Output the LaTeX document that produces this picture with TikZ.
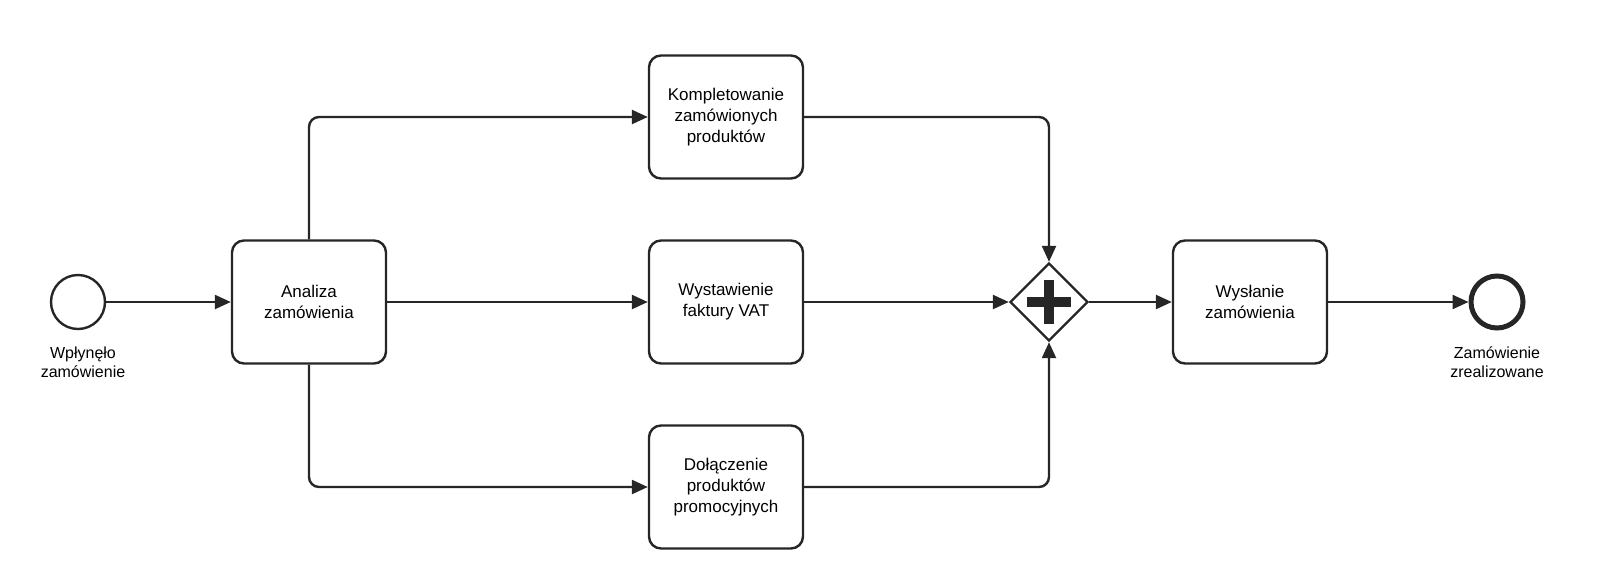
\documentclass[tikz,border=0pt]{standalone}
\usepackage{fontspec}
\setmainfont{Liberation Sans}
\usetikzlibrary{shapes.geometric,arrows.meta}
\begin{document}
\begin{tikzpicture}[x=0.5pt,y=-0.5pt,
  task/.style={draw=black!85,line width=1.2pt,rounded corners=6pt,minimum width=77pt,minimum height=61.5pt,align=center,font=\fontsize{8.5}{10.5}\selectfont,fill=white},
  lbl/.style={align=center,font=\fontsize{8}{9.5}\selectfont},
  flow/.style={draw=black!85,line width=1.2pt,rounded corners=5pt,-{Triangle[length=8pt,width=7pt]}}]
\useasboundingbox (0,0) rectangle (1600,584);
\node[circle,draw=black!85,line width=1.2pt,minimum size=27pt,inner sep=0] (s) at (78,302) {};
\node[lbl] (sl) at (83,362) {Wpłynęło\\zamówienie};
\node[task] (a) at (309,302) {Analiza\\zamówienia};
\node[task] (k) at (726,117) {Kompletowanie\\zamówionych\\produktów};
\node[task] (w) at (726,302) {Wystawienie\\faktury VAT};
\node[task] (d) at (726,487) {Dołączenie\\produktów\\promocyjnych};
\node[diamond,draw=black!85,line width=1.2pt,minimum size=39pt,inner sep=0] (g) at (1049,302) {};
\fill[black!85] (1044,280) rectangle (1054,324);
\fill[black!85] (1027,297) rectangle (1071,307);
\node[task] (z) at (1250,302) {Wysłanie\\zamówienia};
\node[circle,draw=black!85,line width=2.5pt,minimum size=26pt,inner sep=0] (e) at (1497,302) {};
\node[lbl] (el) at (1497,362) {Zamówienie\\zrealizowane};
\draw[flow] (s) -- (a);
\draw[flow] (a.north) |- (k.west);
\draw[flow] (a) -- (w);
\draw[flow] (a.south) |- (d.west);
\draw[flow] (k.east) -| (g.north);
\draw[flow] (w) -- (g);
\draw[flow] (d.east) -| (g.south);
\draw[flow] (g) -- (z);
\draw[flow] (z) -- (e);
\end{tikzpicture}
\end{document}
